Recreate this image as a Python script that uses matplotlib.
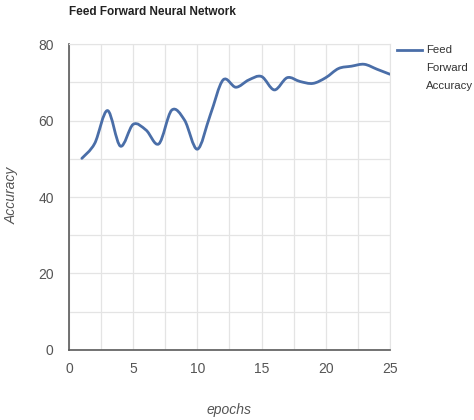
import numpy as np
import matplotlib.pyplot as plt
from matplotlib.path import Path
from matplotlib.patches import PathPatch
from matplotlib.lines import Line2D

# accuracy per epoch
epochs = list(range(1, 26))
accuracy = [50.1, 54.0, 62.6, 53.3, 59.0, 57.5, 53.9, 62.7, 60.1, 52.5,
            61.4, 70.6, 68.7, 70.6, 71.5, 68.0, 71.2, 70.2, 69.7, 71.2,
            73.6, 74.2, 74.7, 73.4, 72.1]

plt.rcParams['font.family'] = ['Liberation Sans', 'DejaVu Sans']

line_color = '#4a6ea8'
grid_color = '#e4e4e4'
text_color = '#555555'

fig = plt.figure(figsize=(4.74, 4.2), dpi=100)
ax = fig.add_axes([0.1456, 0.1667, 0.677, 0.7285])

# smooth curve through the points (cubic bezier, like curveType 'function')
x = np.array(epochs, dtype=float)
y = np.array(accuracy, dtype=float)
verts = [(x[0], y[0])]
codes = [Path.MOVETO]
for i in range(len(x) - 1):
    x0, y0 = (x[i - 1], y[i - 1]) if i > 0 else (x[i], y[i])
    x3, y3 = (x[i + 2], y[i + 2]) if i + 2 < len(x) else (x[i + 1], y[i + 1])
    c1 = (x[i] + (x[i + 1] - x0) / 6, y[i] + (y[i + 1] - y0) / 6)
    c2 = (x[i + 1] - (x3 - x[i]) / 6, y[i + 1] - (y3 - y[i]) / 6)
    verts += [c1, c2, (x[i + 1], y[i + 1])]
    codes += [Path.CURVE4] * 3
ax.add_patch(PathPatch(Path(verts, codes), facecolor='none', edgecolor=line_color,
                       lw=2.0, capstyle='round', joinstyle='round', zorder=3))

ax.set_xlim(0, 25)
ax.set_ylim(0, 80)
ax.set_xticks([0, 5, 10, 15, 20, 25])
ax.set_yticks([0, 20, 40, 60, 80])
ax.set_xticks(np.arange(0, 25.1, 2.5), minor=True)
ax.set_yticks(np.arange(0, 80.1, 10), minor=True)
ax.grid(True, which='both', color=grid_color, lw=0.9)
ax.set_axisbelow(True)
ax.tick_params(which='both', length=0, labelsize=10, colors=text_color)
ax.tick_params(axis='y', pad=11)
ax.tick_params(axis='x', pad=9)

for side in ['top', 'right']:
    ax.spines[side].set_color(grid_color)
for side in ['left', 'bottom']:
    ax.spines[side].set_color('#5a5a5a')
    ax.spines[side].set_linewidth(1.2)

ax.set_xlabel('epochs', style='italic', fontsize=10, color=text_color)
ax.set_ylabel('Accuracy', style='italic', fontsize=10, color=text_color)
ax.xaxis.set_label_coords(0.50, -0.196)
ax.yaxis.set_label_coords(-0.178, 0.507)
ax.xaxis.label.set_va('center')
ax.yaxis.label.set_va('center')

fig.text(69 / 474, 1 - 12 / 420, 'Feed Forward Neural Network', fontsize=8.5,
         fontweight='bold', color='#222222', va='center', ha='left')

# legend drawn on the right, first line aligned with the marker
fig.add_artist(Line2D([397 / 474, 422 / 474], [1 - 50 / 420] * 2, color=line_color,
                      lw=2.0, transform=fig.transFigure))
for k, word in enumerate(['Feed', 'Forward', 'Accuracy']):
    fig.text(426 / 474, 1 - (50 + 18 * k) / 420, word, fontsize=8.2,
             color='#333333', va='center', ha='left')

fig.savefig('out.png', dpi=100)
